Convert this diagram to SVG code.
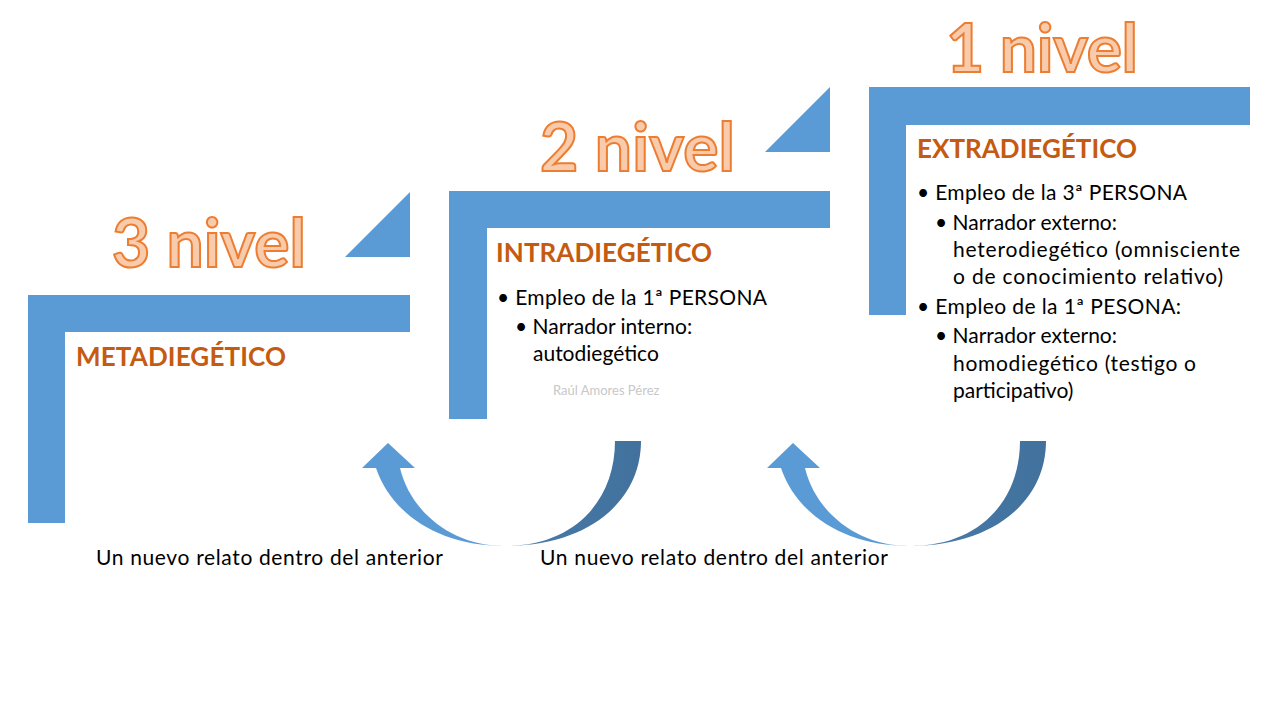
<svg xmlns="http://www.w3.org/2000/svg" width="1280" height="720" viewBox="0 0 1280 720">
<style>
.bar{fill:#5b9bd5}
.niv{font-family:Lato,"Open Sans",sans-serif;font-weight:bold;font-size:66px;fill:#f8cbad;stroke:#ed7d31;stroke-width:2}
.hd{font-family:Lato,"Open Sans",sans-serif;font-weight:bold;font-size:26px;fill:#c55a11}
.tx{font-family:Lato,"Open Sans",sans-serif;font-size:21px;fill:#000}
.cap{font-family:Lato,"Open Sans",sans-serif;font-size:21px;fill:#000}
</style>
<defs>
<linearGradient id="g" x1="0" x2="1" y1="0" y2="0">
<stop offset="0" stop-color="#5b9bd5"/><stop offset="0.5" stop-color="#5b9bd5"/><stop offset="0.5" stop-color="#4a7bab"/><stop offset="1" stop-color="#41719c"/>
</linearGradient>
<path id="arr" d="M615 441 L641 441 C641 500 590 546 505 546 C450 546 410 510 400 468 L415 468 L388 443 L362 468 L376 468 C392 515 440 546 505 546 C575 546 615 500 615 441 Z" fill="url(#g)"/>
</defs>
<rect width="1280" height="720" fill="#fff"/>
<g id="nivel3">
<path class="bar" d="M28 295 H410 V332 H65 V523 H28 Z"/>
<polygon class="bar" points="410,192 410,257 345,257"/>
<text class="niv" x="112" y="267" textLength="194">3 nivel</text>
<text class="hd" x="76" y="366" textLength="210">METADIEGÉTICO</text>
</g>
<g id="nivel2">
<path class="bar" d="M449 191 H830 V228 H487 V419 H449 Z"/>
<polygon class="bar" points="830,87 830,152 765,152"/>
<text class="niv" x="540" y="171" textLength="195">2 nivel</text>
<text class="hd" x="496" y="262" textLength="216">INTRADIEGÉTICO</text>
<text class="tx" x="497" y="305" textLength="270">• Empleo de la 1ª PERSONA</text>
<text class="tx" x="515" y="334">• Narrador interno:</text>
<text class="tx" x="533" y="361">autodiegético</text>
<text x="553" y="395" font-family="Lato,sans-serif" font-size="13" fill="#c8c8c8">Raúl Amores Pérez</text>
</g>
<g id="nivel1">
<path class="bar" d="M869 87 H1250 V125 H906 V315 H869 Z"/>
<text class="niv" x="946" y="72" textLength="192">1 nivel</text>
<text class="hd" x="917" y="158" textLength="220">EXTRADIEGÉTICO</text>
<text class="tx" x="917" y="200" textLength="270">• Empleo de la 3ª PERSONA</text>
<text class="tx" x="935" y="230">• Narrador externo:</text>
<text class="tx" x="953" y="257" textLength="287">heterodiegético (omnisciente</text>
<text class="tx" x="953" y="284" textLength="270">o de conocimiento relativo)</text>
<text class="tx" x="917" y="314" textLength="264">• Empleo de la 1ª PESONA:</text>
<text class="tx" x="935" y="343">• Narrador externo:</text>
<text class="tx" x="953" y="371" textLength="243">homodiegético (testigo o</text>
<text class="tx" x="953" y="398">participativo)</text>
</g>
<g id="connectors">
<use href="#arr"/>
<use href="#arr" transform="translate(405,0)"/>
<text class="cap" x="96" y="565" textLength="347">Un nuevo relato dentro del anterior</text>
<text class="cap" x="540" y="565" textLength="348">Un nuevo relato dentro del anterior</text>
</g>
</svg>
